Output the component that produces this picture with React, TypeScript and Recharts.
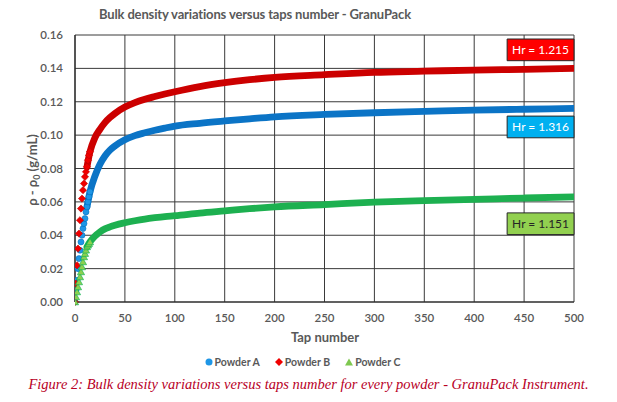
import React from "react";
import { CartesianGrid, ComposedChart, Line, ReferenceArea, XAxis, YAxis } from "recharts";

// early taps: markers are still separate here
const earlyTaps = [0, 1, 2, 3, 4, 5, 6, 7, 8, 9, 10, 11, 12, 13, 14, 15];
const earlyA = [0, 0.007, 0.013, 0.02, 0.026, 0.031, 0.036, 0.04, 0.044, 0.047, 0.05, 0.054, 0.057, 0.06, 0.063, 0.066];
const earlyB = [0, 0.011, 0.022, 0.032, 0.041, 0.049, 0.056, 0.062, 0.067, 0.071, 0.075, 0.078, 0.081, 0.085, 0.088, 0.09];
const earlyC = [0, 0.003, 0.006, 0.009, 0.012, 0.015, 0.018, 0.021, 0.024, 0.027, 0.029, 0.031, 0.033, 0.034, 0.035, 0.036];

// later taps: markers overlap into a band
const bandTaps = [12, 15, 20, 25, 30, 35, 40, 50, 60, 70, 80, 90, 100, 125, 150, 175, 200, 250, 300, 350, 400, 450, 500];
const bandA = [0.057, 0.066, 0.0755, 0.0825, 0.0875, 0.091, 0.0935, 0.0972, 0.0997, 0.1014, 0.1029, 0.1042, 0.1054, 0.1071, 0.1085, 0.1098, 0.111, 0.1124, 0.1134, 0.1142, 0.115, 0.1155, 0.116];
const bandB = [0.081, 0.09, 0.0985, 0.1035, 0.1075, 0.1105, 0.113, 0.1168, 0.1195, 0.1215, 0.1231, 0.1246, 0.126, 0.1291, 0.1314, 0.1332, 0.1346, 0.1362, 0.1376, 0.1383, 0.139, 0.1394, 0.14];
const bandC = [0.033, 0.036, 0.0395, 0.042, 0.0438, 0.045, 0.046, 0.0475, 0.0487, 0.0497, 0.0505, 0.0512, 0.0517, 0.0533, 0.0546, 0.0559, 0.057, 0.0584, 0.0598, 0.0607, 0.0615, 0.0623, 0.063];

const xTicks = [0, 50, 100, 150, 200, 250, 300, 350, 400, 450, 500];
const yTicks = [0, 0.02, 0.04, 0.06, 0.08, 0.1, 0.12, 0.14, 0.16];

const hrLabels = ["Hr = 1.215", "Hr = 1.316", "Hr = 1.151"];

const pts = (taps: number[], vals: number[]) => taps.map((t, i) => ({ t, v: vals[i] }));

const FONT = "Lato, 'Noto Sans', sans-serif";
const GRAY = "#595959";

const circleDot = (p: any) => (
  <circle key={`a${p.index}`} cx={p.cx} cy={p.cy} r={3} fill="#1E96E6" stroke="#0070C0" strokeWidth={0.6} />
);
const diamondDot = (p: any) => (
  <polygon
    key={`b${p.index}`}
    points={`${p.cx},${p.cy - 3.6} ${p.cx + 3.6},${p.cy} ${p.cx},${p.cy + 3.6} ${p.cx - 3.6},${p.cy}`}
    fill="#F00000"
    stroke="#C00000"
    strokeWidth={0.6}
  />
);
const triDot = (p: any) => (
  <polygon
    key={`c${p.index}`}
    points={`${p.cx},${p.cy - 3.6} ${p.cx + 3.6},${p.cy + 2.8} ${p.cx - 3.6},${p.cy + 2.8}`}
    fill="#8CCF50"
    stroke="#00B050"
    strokeWidth={0.6}
  />
);

const LegendRow = () => (
  <div
    style={{
      position: "absolute",
      top: 356,
      left: 0,
      width: 605,
      display: "flex",
      justifyContent: "center",
      gap: 15,
      fontFamily: FONT,
      fontSize: 10.5,
      fontWeight: 700,
      color: GRAY,
    }}
  >
    <span style={{ display: "flex", alignItems: "center", gap: 2 }}>
      <svg width={8} height={8}><circle cx={4} cy={4} r={3.5} fill="#1E96E6" /></svg>Powder A
    </span>
    <span style={{ display: "flex", alignItems: "center", gap: 2 }}>
      <svg width={8} height={8}><polygon points="4,0 8,4 4,8 0,4" fill="#F00000" /></svg>Powder B
    </span>
    <span style={{ display: "flex", alignItems: "center", gap: 2 }}>
      <svg width={8} height={8}><polygon points="4,0.5 8,7.5 0,7.5" fill="#7EC850" /></svg>Powder C
    </span>
  </div>
);

export default function App() {
  return (
    <div style={{ position: "relative", width: 617, height: 402, background: "#fff" }}>
      <style>{"body{margin:0}"}</style>
      <div
        style={{
          position: "absolute",
          top: 6,
          left: 0,
          width: 510,
          textAlign: "center",
          fontFamily: FONT,
          fontWeight: 700,
          fontSize: 13,
          letterSpacing: -0.15,
          color: GRAY,
        }}
      >
        Bulk density variations versus taps number - GranuPack
      </div>
      <div
        style={{
          position: "absolute",
          left: 33,
          top: 170,
          transform: "translate(-50%, -50%) rotate(-90deg)",
          whiteSpace: "nowrap",
          fontFamily: FONT,
          fontWeight: 700,
          fontSize: 13,
          color: GRAY,
        }}
      >
        ρ - ρ<sub style={{ fontSize: 9 }}>0</sub> (g/mL)
      </div>
      <ComposedChart width={617} height={402} margin={{ top: 35, right: 43, left: 0, bottom: 70 }}>
        <CartesianGrid stroke="#3A3A3A" strokeWidth={1} horizontalValues={yTicks} verticalValues={xTicks} />
        <XAxis
          type="number"
          dataKey="t"
          domain={[0, 500]}
          ticks={xTicks}
          allowDataOverflow
          height={30}
          tickLine={false}
          tickSize={6}
          tickMargin={6}
          axisLine={{ stroke: "#262626", strokeWidth: 1.2 }}
          tick={{ fill: GRAY, fontSize: 11.5, fontFamily: FONT, fontWeight: 600 }}
        />
        <YAxis
          type="number"
          dataKey="v"
          domain={[0, 0.16]}
          ticks={yTicks}
          width={75}
          tickLine={false}
          tickSize={6}
          tickMargin={6}
          axisLine={{ stroke: "#262626", strokeWidth: 1.2 }}
          tickFormatter={(v: number) => v.toFixed(2)}
          tick={{ fill: GRAY, fontSize: 11.5, fontFamily: FONT, fontWeight: 600 }}
        />
        <ReferenceArea x1={433} x2={500} y1={0.1446} y2={0.1576} fill="#FF0000" fillOpacity={1} stroke="#262626"
          label={{ value: hrLabels[0], position: "center", fill: "#fff", fontSize: 12, fontFamily: FONT }} />
        <ReferenceArea x1={433} x2={500} y1={0.0984} y2={0.1114} fill="#00B0F0" fillOpacity={1} stroke="#262626"
          label={{ value: hrLabels[1], position: "center", fill: "#fff", fontSize: 12, fontFamily: FONT }} />
        <ReferenceArea x1={433} x2={500} y1={0.0404} y2={0.0534} fill="#92D050" fillOpacity={1} stroke="#262626"
          label={{ value: hrLabels[2], position: "center", fill: "#262626", fontSize: 12, fontFamily: FONT }} />
        <Line data={pts(bandTaps, bandA)} dataKey="v" type="monotone" stroke="#0B74C6" strokeWidth={6.8}
          strokeLinecap="round" dot={false} isAnimationActive={false} />
        <Line data={pts(earlyTaps, earlyA)} dataKey="v" stroke="none" dot={circleDot} isAnimationActive={false} />
        <Line data={pts(bandTaps, bandB)} dataKey="v" type="monotone" stroke="#CC0000" strokeWidth={6.8}
          strokeLinecap="round" dot={false} isAnimationActive={false} />
        <Line data={pts(earlyTaps, earlyB)} dataKey="v" stroke="none" dot={diamondDot} isAnimationActive={false} />
        <Line data={pts(bandTaps, bandC)} dataKey="v" type="monotone" stroke="#1DB050" strokeWidth={6.8}
          strokeLinecap="round" dot={false} isAnimationActive={false} />
        <Line data={pts(earlyTaps, earlyC)} dataKey="v" stroke="none" dot={triDot} isAnimationActive={false} />
      </ComposedChart>
      <div
        style={{
          position: "absolute",
          top: 329,
          left: 0,
          width: 650,
          textAlign: "center",
          fontFamily: FONT,
          fontWeight: 700,
          fontSize: 13,
          color: GRAY,
        }}
      >
        Tap number
      </div>
      <LegendRow />
      <div
        style={{
          position: "absolute",
          top: 376,
          left: 0,
          width: 617,
          textAlign: "center",
          fontFamily: "'Liberation Serif', serif",
          fontStyle: "italic",
          fontSize: 14.5,
          color: "#B8001F",
        }}
      >
        Figure 2: Bulk density variations versus taps number for every powder - GranuPack Instrument.
      </div>
    </div>
  );
}
